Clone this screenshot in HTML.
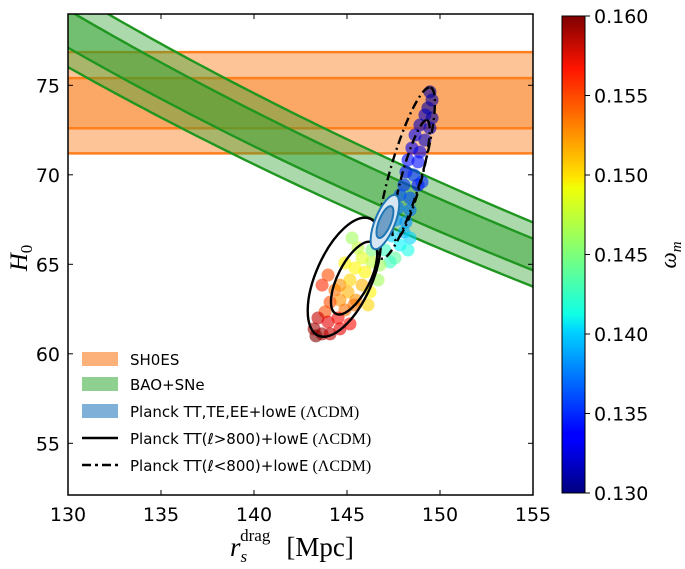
<!DOCTYPE html>
<html><head><meta charset="utf-8"><style>
body{margin:0;background:#fff;}
svg{font-family:"DejaVu Sans","Liberation Sans",sans-serif;}
</style></head><body>
<svg id="chart" width="685" height="564" viewBox="0 0 685 564" xmlns="http://www.w3.org/2000/svg">
<defs><clipPath id="plotclip"><rect x="68" y="14" width="465" height="481"/></clipPath>
<linearGradient id="jet" x1="0" y1="1" x2="0" y2="0">
<stop offset="0" stop-color="#00007f"/><stop offset="0.11" stop-color="#0000ff"/><stop offset="0.125" stop-color="#0000ff"/><stop offset="0.34" stop-color="#00d4ff"/><stop offset="0.375" stop-color="#10ffe6"/><stop offset="0.5" stop-color="#7dff7a"/><stop offset="0.64" stop-color="#f0ff06"/><stop offset="0.66" stop-color="#ffe600"/><stop offset="0.89" stop-color="#ff1400"/><stop offset="1" stop-color="#7f0000"/>
</linearGradient></defs>
<g id="plot" clip-path="url(#plotclip)"></g>
<g id="axes"></g>
</svg>
<script>
const xTicks=[130,135,140,145,150,155];
const yTicks=[55,60,65,70,75];
const cbTicks=[0.130,0.135,0.140,0.145,0.150,0.155,0.160];
const shoes68=[72.6,75.4];
const shoes95=[71.2,76.85];
const baoCenter=10160, bao68=137, bao95=278;
// contours: [rs center, H0 center, semi-major(px), semi-minor(px), angle deg]
const planckAll=[[147.04,67.36,29,10,-68],[147.04,67.36,17,6,-68]];
const planckHigh=[[144.85,64.28,64,28,-66],[145.38,64.23,40,16,-63]];
const planckLow=[[148.17,70.1,89,16,-74],[148.44,69.71,62,10,-75]];
const ptRs=[149.46,149.57,149.35,149.19,149.57,148.92,149.46,148.66,149.19,148.49,148.92,148.28,148.82,148.17,148.60,148.06,148.82,147.85,148.39,149.03,147.74,148.39,147.63,148.17,148.06,147.42,148.39,147.85,148.28,
145.27,147.58,147.31,145.81,146.34,146.77,145.43,145.97,146.67,145.16,145.81,145.05,146.24,144.62,145.48,146.13,144.35,143.98,143.66,144.09,144.89,143.82,144.52,
143.44,143.98,143.23,143.66,144.62,145.16,144.09,143.33,145.38,144.89,145.59,144.62,146.34,147.04];
const ptH0=[74.63,74.18,73.73,73.34,73.17,72.78,72.61,72.22,71.94,71.50,71.27,70.83,70.72,70.16,69.99,69.43,69.43,68.87,68.70,69.60,68.15,68.03,67.47,67.36,66.80,66.58,66.47,66.08,65.80,
66.47,65.35,65.13,65.35,65.13,64.96,64.79,64.57,64.12,64.12,63.84,63.45,63.45,63.0,63.0,62.73,63.56,64.40,63.84,62.89,62.45,62.34,62.0,
62.0,61.78,61.39,61.11,61.39,61.67,61.11,61.0,62.73,65.07,65.91,63.84,65.80,65.80];
const ptOm=[0.131,0.131,0.131,0.132,0.131,0.132,0.132,0.133,0.132,0.133,0.133,0.134,0.134,0.134,0.135,0.135,0.134,0.136,0.136,0.135,0.137,0.137,0.138,0.138,0.139,0.140,0.140,0.141,0.142,
0.146,0.144,0.143,0.148,0.147,0.146,0.149,0.149,0.146,0.150,0.151,0.151,0.149,0.152,0.152,0.150,0.153,0.154,0.155,0.154,0.153,0.154,0.156,
0.158,0.157,0.159,0.159,0.157,0.156,0.158,0.160,0.153,0.149,0.147,0.152,0.145,0.143];
const NS="http://www.w3.org/2000/svg";
const X=v=>68+(v-130)*18.6, Y=v=>85.3-(v-75)*17.9;
const C=v=>493-(v-0.130)/0.030*477;
function mk(tag,attrs,parent){const e=document.createElementNS(NS,tag);for(const k in attrs)e.setAttribute(k,attrs[k]);parent.appendChild(e);return e;}
function jet(t){t=Math.max(0,Math.min(1,t));const f=x=>Math.round(255*Math.max(0,Math.min(1,1.5-Math.abs(4*t-x))));return `rgb(${f(3)},${f(2)},${f(1)})`;}
const plot=document.getElementById('plot'), axes=document.getElementById('axes');
let e=mk('rect',{x:68,y:Y(shoes95[1]),width:465,height:Y(shoes95[0])-Y(shoes95[1]),fill:'#fdc497'},plot);

e=mk('rect',{x:68,y:Y(shoes68[1]),width:465,height:Y(shoes68[0])-Y(shoes68[1]),fill:'#fba766'},plot);

[...shoes68,...shoes95].forEach(v=>{const l=mk('line',{x1:68,x2:533,y1:Y(v),y2:Y(v),stroke:'#ff7f1e','stroke-width':2.5},plot);
});
function curve(c){let p=[];for(let r=129;r<=156;r+=0.5)p.push(X(r)+','+Y(c/r));return p;}
function band(c1,c2,fill,name){const a=curve(c1),b=curve(c2).reverse();const pg=mk('polygon',{points:a.concat(b).join(' '),fill:fill},plot);
}
band(baoCenter-bao95,baoCenter+bao95,'rgba(44,160,44,0.4)','bao-95-band');
band(baoCenter-bao68,baoCenter+bao68,'rgba(44,160,44,0.45)','bao-68-band');
[bao95,bao68,-bao68,-bao95].forEach(d=>{const pl=mk('polyline',{points:curve(baoCenter+d).join(' '),fill:'none',stroke:'#1f961f','stroke-width':2.4},plot);
});
for(let i=0;i<ptRs.length;i++){const c=mk('circle',{cx:X(ptRs[i]),cy:Y(ptH0[i]),r:6.5,fill:jet((ptOm[i]-0.130)/0.030),'fill-opacity':0.6},plot);
}
function ell(p,attrs,name){const el=mk('ellipse',Object.assign({cx:0,cy:0,rx:p[2],ry:p[3],transform:`translate(${X(p[0])},${Y(p[1])}) rotate(${p[4]})`},attrs),plot);
}
ell(planckLow[0],{fill:'none',stroke:'#000','stroke-width':2.4,'stroke-dasharray':'9,4,2,4'},'planck-low-ell-95-contour');
ell(planckLow[1],{fill:'none',stroke:'#000','stroke-width':2.4,'stroke-dasharray':'9,4,2,4'},'planck-low-ell-68-contour');
ell(planckHigh[0],{fill:'none',stroke:'#000','stroke-width':2.4},'planck-high-ell-95-contour');
ell(planckHigh[1],{fill:'none',stroke:'#000','stroke-width':2.4},'planck-high-ell-68-contour');
ell(planckAll[0],{fill:'#d6e6f3',stroke:'#1f77b4','stroke-width':2},'planck-all-95-contour');
ell(planckAll[1],{fill:'#6f9fc6',stroke:'#1f77b4','stroke-width':2},'planck-all-68-contour');
e=mk('rect',{x:68,y:14,width:465,height:481,fill:'none',stroke:'#000','stroke-width':1.5},axes);

xTicks.forEach(v=>{mk('line',{x1:X(v),x2:X(v),y1:495,y2:490,stroke:'#000'},axes);mk('line',{x1:X(v),x2:X(v),y1:14,y2:19,stroke:'#000'},axes);
const t=mk('text',{x:X(v),y:521,'text-anchor':'middle','font-size':19},axes);t.textContent=v;
});
yTicks.forEach(v=>{mk('line',{x1:68,x2:73,y1:Y(v),y2:Y(v),stroke:'#000'},axes);mk('line',{x1:528,x2:533,y1:Y(v),y2:Y(v),stroke:'#000'},axes);
const t=mk('text',{x:60,y:Y(v)+7,'text-anchor':'end','font-size':19},axes);t.textContent=v;
});
e=mk('rect',{x:562,y:16,width:23,height:477,fill:'url(#jet)',stroke:'#000','stroke-width':1},axes);

cbTicks.forEach(v=>{mk('line',{x1:585,x2:590,y1:C(v),y2:C(v),stroke:'#000'},axes);
const t=mk('text',{x:594,y:C(v)+7,'font-size':19},axes);t.textContent=v.toFixed(3);
});
const legNames=['SH0ES','BAO+SNe','Planck TT,TE,EE+lowE','Planck TT(ℓ>800)+lowE','Planck TT(ℓ<800)+lowE'];
const legY=[359,384,411,438,465];
legNames.forEach((n,i)=>{
if(i<3){const r=mk('rect',{x:82,y:legY[i]-7,width:36,height:14,fill:['#fdb17a','#8fcf8f','#7fb0d8'][i]},axes);}
else{const l=mk('line',{x1:82,x2:118,y1:legY[i],y2:legY[i],stroke:'#000','stroke-width':2.5,'stroke-dasharray':i==4?'9,4,3,4':''},axes);}
const t=mk('text',{x:130,y:legY[i]+6,'font-size':15},axes);t.textContent=n;
if(i>=2){const s=mk('tspan',{'font-family':'Liberation Serif, serif','font-size':16},t);s.textContent=' (ΛCDM)';}
});
let t=mk('text',{x:0,y:0,'font-size':25,'font-family':'Liberation Serif, serif','font-style':'italic',transform:'translate(27,258) rotate(-90)','text-anchor':'middle'},axes);
t.innerHTML='H<tspan font-size="17" dy="5" font-style="normal">0</tspan>';

t=mk('text',{x:230,y:556,'font-size':27,'font-family':'Liberation Serif, serif'},axes);
t.innerHTML='<tspan font-style="italic">r</tspan><tspan font-size="17" font-style="italic" dy="6">s</tspan><tspan font-size="17" dx="-7" dy="-21">drag</tspan><tspan dy="15" dx="16">[Mpc]</tspan>';

t=mk('text',{x:0,y:0,'font-size':23,'font-family':'Liberation Serif, serif','font-style':'italic',transform:'translate(676,255) rotate(-90)','text-anchor':'middle'},axes);
t.innerHTML='ω<tspan font-size="15" dy="5">m</tspan>';

</script>
</body></html>
